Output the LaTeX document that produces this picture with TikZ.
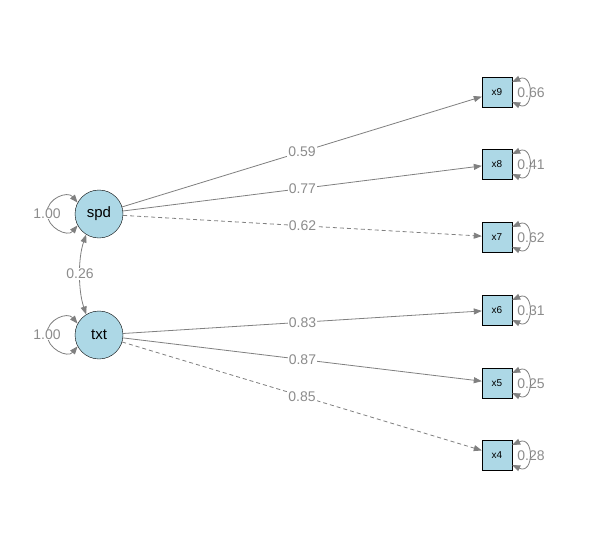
\documentclass[tikz,border=0pt]{standalone}
\usepackage{fontspec}
\setmainfont{Liberation Sans}
\usetikzlibrary{arrows.meta,calc}
\definecolor{edgecol}{RGB}{128,128,128}
\definecolor{labcol}{RGB}{140,140,140}
\definecolor{fillcol}{RGB}{173,216,230}
\tikzset{
  latent/.style={circle,draw=black,fill=fillcol,minimum size=48pt,inner sep=0pt,font=\fontsize{15}{15}\selectfont},
  manifest/.style={rectangle,draw=black,fill=fillcol,minimum size=30pt,inner sep=0pt,font=\fontsize{10}{10}\selectfont},
  edge/.style={draw=edgecol,line width=0.8pt,-{Triangle[length=8pt,width=6pt]},shorten >=0pt},
  dedge/.style={edge,dash pattern=on 4pt off 3pt},
  dbl/.style={draw=edgecol,line width=0.8pt,{Triangle[length=8pt,width=6pt]}-{Triangle[length=8pt,width=6pt]}},
  lab/.style={text=labcol,fill=white,inner sep=1pt,font=\fontsize{14}{14}\selectfont},
  slab/.style={text=labcol,inner sep=1pt,font=\fontsize{14}{14}\selectfont}
}
\begin{document}
\begin{tikzpicture}[x=1pt,y=-1pt]
\useasboundingbox[fill=white] (0,0) rectangle (597,547);
\node[latent] (spd) at (99,214) {spd};
\node[latent] (txt) at (99,335) {txt};
\node[manifest] (x9) at (497,92) {x9};
\node[manifest] (x8) at (497,164) {x8};
\node[manifest] (x7) at (497,237) {x7};
\node[manifest] (x6) at (497,310) {x6};
\node[manifest] (x5) at (497,383) {x5};
\node[manifest] (x4) at (497,455) {x4};
% loadings
\draw[edge] (spd) -- node[lab] {0.59} (x9);
\draw[edge] (spd) -- node[lab] {0.77} (x8);
\draw[dedge] (spd) -- node[lab] {0.62} (x7);
\draw[edge] (txt) -- node[lab] {0.83} (x6);
\draw[edge] (txt) -- node[lab] {0.87} (x5);
\draw[dedge] (txt) -- node[lab] {0.85} (x4);
% covariance
\draw[dbl] (spd.238) .. controls (78,258) and (78,290) .. node[lab,pos=0.5] {0.26} (txt.122);
% latent variances
\foreach \n in {spd,txt}{
  \coordinate (\n-l) at ($(\n.center)+(-52,-1)$);
  \draw[dbl] (\n.152) .. controls +(-10,-12) and +(0,-15) .. (\n-l)
                      .. controls +(0,15) and +(-10,12) .. (\n.208);
  \node[lab,inner sep=0.5pt] at ($(\n.center)+(-52,0)$) {1.00};
}
% residual variances
\foreach \n/\v in {x9/0.66,x8/0.41,x7/0.62,x6/0.31,x5/0.25,x4/0.28}{
  \draw[dbl] ($(\n.east)+(0,-10)$) .. controls +(22,-10) and +(22,10) .. ($(\n.east)+(0,10)$);
  \node[slab,anchor=west] at ($(\n.east)+(4,1)$) {\v};
}
\end{tikzpicture}
\end{document}
